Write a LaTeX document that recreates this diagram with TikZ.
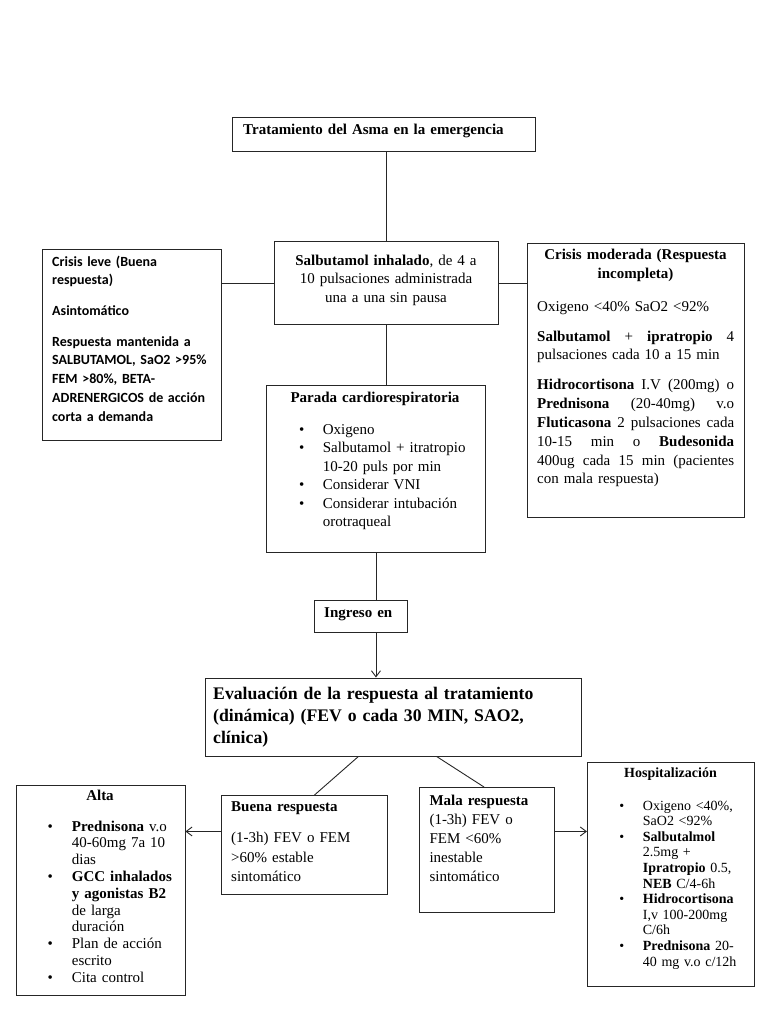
\documentclass[tikz,border=0pt]{standalone}
\usepackage{fontspec}
\setmainfont{Liberation Serif}
\newfontfamily\calfont{Carlito}
\usetikzlibrary{arrows.meta}
\newcommand\bul[1]{\makebox[#1][l]{\textbullet}}
\newcommand\ind[1]{\hspace*{#1}}
\tikzset{
 box/.style={draw=black!85, line width=0.9pt, inner sep=0pt, anchor=north west},
 conn/.style={draw=black!85, line width=0.9pt},
 arr/.style={conn, -{Straight Barb[length=6pt,width=9pt]}},
 txt/.style={inner sep=0pt, anchor=base west, align=left, font=\fontsize{15}{18.5}\selectfont},
 ctxt/.style={inner sep=0pt, anchor=base, align=center, font=\fontsize{15}{18.5}\selectfont},
}
\begin{document}
\begin{tikzpicture}[x=1pt,y=-1pt]
\useasboundingbox (0,0) rectangle (768,1024);
% boxes
\node[box, minimum width=303pt, minimum height=34pt] (title) at (232,117) {};
\node[box, minimum width=224pt, minimum height=83pt] (sal) at (274,241) {};
\node[box, minimum width=179pt, minimum height=191pt] (leve) at (42,249) {};
\node[box, minimum width=217pt, minimum height=274pt] (mod) at (527,243) {};
\node[box, minimum width=219pt, minimum height=167pt] (par) at (266,385) {};
\node[box, minimum width=93pt, minimum height=32pt] (ing) at (314,600) {};
\node[box, minimum width=376pt, minimum height=78pt] (eval) at (204.5,677.5) {};
\node[box, minimum width=166pt, minimum height=99pt] (buena) at (220.5,795) {};
\node[box, minimum width=135pt, minimum height=125pt] (mala) at (419,787) {};
\node[box, minimum width=169pt, minimum height=210pt] (alta) at (15.5,785) {};
\node[box, minimum width=167pt, minimum height=224pt] (hosp) at (587,762) {};
% texts
\node[txt, text width=290pt] (titletxt) at (243,135) {\textbf{Tratamiento del Asma en la emergencia}};
\node[ctxt, text width=220pt] (saltxt) at (386,265) {\textbf{Salbutamol inhalado}, de 4 a\\10 pulsaciones administrada\\una a una sin pausa};
\node[txt, text width=175pt, font=\calfont\bfseries\fontsize{14}{18.7}\selectfont] (levetxt) at (52,266) {Crisis leve (Buena\\respuesta)\\[12.3pt]Asintomático\\[11.8pt]Respuesta mantenida a\\SALBUTAMOL, SaO2 >95\%\\FEM >80\%, BETA-\\ADRENERGICOS de acción\\corta a demanda};
\node[ctxt, text width=210pt, font=\bfseries\fontsize{15}{19}\selectfont] (modtitle) at (635.5,259.3) {Crisis moderada (Respuesta\\incompleta)};
\node[txt, text width=197pt, font=\fontsize{15}{18.8}\selectfont] (modtxt) at (537,311.7) {Oxigeno <40\% SaO2 <92\%\\[10.5pt]
\textbf{Salbutamol}\hfill+\hfill\textbf{ipratropio}\hfill4\\
pulsaciones cada 10 a 15 min\\[11.2pt]
\textbf{Hidrocortisona}\hfill I.V\hfill(200mg)\hfill o\\
\textbf{Prednisona}\hfill(20-40mg)\hfill v.o\\
\textbf{Fluticasona}\hfill 2\hfill pulsaciones\hfill cada\\
10-15\hfill min\hfill o\hfill\textbf{Budesonida}\\
400ug\hfill cada\hfill 15\hfill min\hfill(pacientes\\
con mala respuesta)};
\node[ctxt, text width=215pt, font=\bfseries\fontsize{15}{18.5}\selectfont] (partitle) at (375,402.3) {Parada cardiorespiratoria};
\node[txt, text width=180pt] (partxt) at (299,434.3) {\bul{23.7pt}Oxigeno\\
\bul{23.7pt}Salbutamol + itratropio\\
\ind{23.7pt}10-20 puls por min\\
\bul{23.7pt}Considerar VNI\\
\bul{23.7pt}Considerar intubación\\
\ind{23.7pt}orotraqueal};
\node[txt, text width=85pt] (ingtxt) at (324,617.7) {\textbf{Ingreso en}};
\node[txt, text width=365pt, font=\bfseries\fontsize{17.7}{22}\selectfont] (evaltxt) at (213,699.3) {Evaluación de la respuesta al tratamiento\\(dinámica) (FEV o cada 30 MIN, SAO2,\\clínica)};
\node[txt, text width=150pt, font=\fontsize{15}{19.5}\selectfont] (buenatxt) at (231,811.7) {\textbf{Buena respuesta}\\[11.5pt](1-3h) FEV o FEM\\>60\% estable\\sintomático};
\node[txt, text width=120pt, font=\fontsize{15}{19}\selectfont] (malatxt) at (429.3,805) {\textbf{Mala respuesta}\\(1-3h) FEV o\\FEM <60\%\\inestable\\sintomático};
\node[ctxt, text width=160pt] (altatitle) at (100,800.7) {\textbf{Alta}};
\node[txt, text width=135pt, font=\fontsize{15}{16.8}\selectfont] (altatxt) at (47.4,831) {\bul{24.3pt}\textbf{Prednisona} v.o\\
\ind{24.3pt}40-60mg 7a 10\\
\ind{24.3pt}dias\\
\bul{24.3pt}\textbf{GCC inhalados}\\
\ind{24.3pt}\textbf{y agonistas B2}\\
\ind{24.3pt}de larga\\
\ind{24.3pt}duración\\
\bul{24.3pt}Plan de acción\\
\ind{24.3pt}escrito\\
\bul{24.3pt}Cita control};
\node[ctxt, text width=160pt, font=\bfseries\fontsize{14}{16}\selectfont] (hosptitle) at (670.5,777.7) {Hospitalización};
\node[txt, text width=130pt, font=\fontsize{14}{15.6}\selectfont] (hosptxt) at (619.2,810) {\bul{23.5pt}Oxigeno <40\%,\\
\ind{23.5pt}SaO2 <92\%\\
\bul{23.5pt}\textbf{Salbutalmol}\\
\ind{23.5pt}2.5mg +\\
\ind{23.5pt}\textbf{Ipratropio} 0.5,\\
\ind{23.5pt}\textbf{NEB} C/4-6h\\
\bul{23.5pt}\textbf{Hidrocortisona}\\
\ind{23.5pt}I,v 100-200mg\\
\ind{23.5pt}C/6h\\
\bul{23.5pt}\textbf{Prednisona} 20-\\
\ind{23.5pt}40 mg v.o c/12h};
% connectors
\draw[conn] (sal.north) -- (sal.north |- title.south);
\draw[conn] (sal.west) -- (sal.west -| leve.east);
\draw[conn] (sal.east) -- (sal.east -| mod.west);
\draw[conn] (sal.south) -- (sal.south |- par.north);
\draw[conn] (par.south) -- (par.south |- ing.north);
\draw[arr] (par.south |- ing.south) -- (par.south |- eval.north);
\draw[conn] ([xshift=154pt]eval.south west) -- ([xshift=94pt]buena.north west);
\draw[conn] ([xshift=232pt]eval.south west) -- ([xshift=65pt]mala.north west);
\coordinate (bw) at ([yshift=13.5pt]buena.west);
\draw[arr] (bw) -- (bw -| alta.east);
\coordinate (mw) at ([yshift=18.5pt]mala.east);
\draw[arr] (mw) -- (mw -| hosp.west);
\end{tikzpicture}
\end{document}
